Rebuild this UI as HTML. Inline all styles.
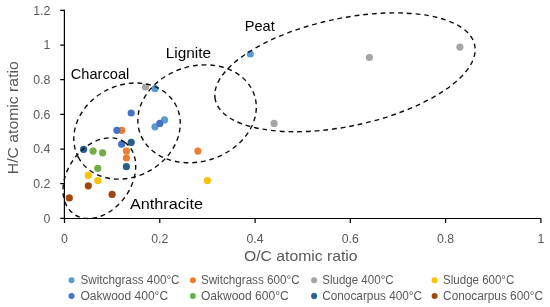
<!DOCTYPE html>
<html><head><meta charset="utf-8"><title>Van Krevelen diagram</title>
<style>html,body{margin:0;padding:0;background:#fff}svg{display:block}text{font-family:"Liberation Sans",sans-serif}</style>
</head><body>
<svg width="550" height="307" viewBox="0 0 550 307">
<rect width="550" height="307" fill="#fff"/>
<g stroke="#000" stroke-width="1.2" fill="none">
<path d="M64.4 9.8V219.0"/>
<path d="M63.8 218.5H541.1"/>
<path d="M60.2 218.4H64.4M60.2 183.7H64.4M60.2 149.1H64.4M60.2 114.4H64.4M60.2 79.7H64.4M60.2 45.1H64.4M60.2 10.4H64.4M64.5 218.5V223M159.8 218.5V223M255.1 218.5V223M350.3 218.5V223M445.6 218.5V223M540.9 218.5V223"/>
</g>
<g fill="#5B9BD5">
<circle cx="250.3" cy="54.0" r="3.6"/>
<circle cx="155.0" cy="88.7" r="3.6"/>
<circle cx="164.5" cy="119.9" r="3.6"/>
<circle cx="155.0" cy="126.8" r="3.6"/>
</g>
<g fill="#ED7D31">
<circle cx="197.9" cy="151.1" r="3.6"/>
<circle cx="121.7" cy="130.3" r="3.6"/>
<circle cx="126.4" cy="151.1" r="3.6"/>
<circle cx="126.4" cy="158.0" r="3.6"/>
</g>
<g fill="#A5A5A5">
<circle cx="459.9" cy="47.1" r="3.6"/>
<circle cx="369.4" cy="57.5" r="3.6"/>
<circle cx="274.1" cy="123.4" r="3.6"/>
<circle cx="145.5" cy="87.0" r="3.6"/>
</g>
<g fill="#FFC000">
<circle cx="207.4" cy="180.6" r="3.6"/>
<circle cx="88.3" cy="175.4" r="3.6"/>
<circle cx="97.8" cy="180.6" r="3.6"/>
</g>
<g fill="#4472C4">
<circle cx="131.2" cy="113.0" r="3.6"/>
<circle cx="116.9" cy="130.3" r="3.6"/>
<circle cx="121.7" cy="144.2" r="3.6"/>
<circle cx="159.8" cy="123.4" r="3.6"/>
</g>
<g fill="#70AD47">
<circle cx="93.1" cy="151.1" r="3.6"/>
<circle cx="102.6" cy="152.8" r="3.6"/>
<circle cx="97.8" cy="168.4" r="3.6"/>
</g>
<g fill="#255E91">
<circle cx="83.6" cy="149.4" r="3.6"/>
<circle cx="131.2" cy="142.4" r="3.6"/>
<circle cx="126.4" cy="166.7" r="3.6"/>
</g>
<g fill="#9E480E">
<circle cx="69.3" cy="197.9" r="3.6"/>
<circle cx="88.3" cy="185.8" r="3.6"/>
<circle cx="112.1" cy="194.4" r="3.6"/>
</g>
<g fill="none" stroke="#0d0d0d" stroke-width="1.4" stroke-dasharray="4.8 3.9">
<ellipse cx="127.02" cy="131.08" rx="55.30" ry="45.70" transform="rotate(151.31 127.02 131.08)"/>
<ellipse cx="99.37" cy="178.18" rx="44.01" ry="31.83" transform="rotate(-54.67 99.37 178.18)"/>
<ellipse cx="197.07" cy="113.81" rx="60.29" ry="47.66" transform="rotate(162.30 197.07 113.81)"/>
<ellipse cx="344.98" cy="72.31" rx="132.54" ry="53.94" transform="rotate(168.12 344.98 72.31)"/>
</g>
<g fill="#595959" font-size="12.3px">
<text x="50.4" y="222.6" text-anchor="end">0</text>
<text x="50.4" y="187.9" text-anchor="end">0.2</text>
<text x="50.4" y="153.3" text-anchor="end">0.4</text>
<text x="50.4" y="118.6" text-anchor="end">0.6</text>
<text x="50.4" y="83.9" text-anchor="end">0.8</text>
<text x="50.4" y="49.3" text-anchor="end">1</text>
<text x="50.4" y="14.6" text-anchor="end">1.2</text>
<text x="64.5" y="242.5" text-anchor="middle">0</text>
<text x="159.8" y="242.5" text-anchor="middle">0.2</text>
<text x="255.1" y="242.5" text-anchor="middle">0.4</text>
<text x="350.3" y="242.5" text-anchor="middle">0.6</text>
<text x="445.6" y="242.5" text-anchor="middle">0.8</text>
<text x="540.9" y="242.5" text-anchor="middle">1</text>
</g>
<g fill="#595959" font-size="14.4px">
<text x="244" y="260.5" textLength="113.5" lengthAdjust="spacingAndGlyphs">O/C atomic ratio</text>
<text transform="translate(18.1 174.2) rotate(-90)" textLength="113" lengthAdjust="spacingAndGlyphs">H/C atomic ratio</text>
</g>
<g fill="#000" font-size="14.4px">
<text x="70.8" y="79" textLength="58.5" lengthAdjust="spacingAndGlyphs">Charcoal</text>
<text x="165.8" y="57.8" textLength="45.3" lengthAdjust="spacingAndGlyphs">Lignite</text>
<text x="244.7" y="31.2" textLength="30" lengthAdjust="spacingAndGlyphs">Peat</text>
<text x="130" y="208.9" textLength="73" lengthAdjust="spacingAndGlyphs">Anthracite</text>
</g>
<g font-size="12px">
<circle cx="71.5" cy="280.3" r="3" fill="#5B9BD5"/>
<text x="80.4" y="283.7" fill="#595959" textLength="99.2" lengthAdjust="spacingAndGlyphs">Switchgrass 400°C</text>
<circle cx="192.9" cy="280.3" r="3" fill="#ED7D31"/>
<text x="200.9" y="283.7" fill="#595959" textLength="98.7" lengthAdjust="spacingAndGlyphs">Switchgrass 600°C</text>
<circle cx="314.1" cy="280.3" r="3" fill="#A5A5A5"/>
<text x="322.2" y="283.7" fill="#595959" textLength="71.4" lengthAdjust="spacingAndGlyphs">Sludge 400°C</text>
<circle cx="434.6" cy="280.3" r="3" fill="#FFC000"/>
<text x="443.1" y="283.7" fill="#595959" textLength="71.2" lengthAdjust="spacingAndGlyphs">Sludge 600°C</text>
<circle cx="71.5" cy="295.9" r="3" fill="#4472C4"/>
<text x="80.4" y="300.1" fill="#595959" textLength="87.7" lengthAdjust="spacingAndGlyphs">Oakwood 400°C</text>
<circle cx="192.9" cy="295.9" r="3" fill="#70AD47"/>
<text x="200.9" y="300.1" fill="#595959" textLength="87.8" lengthAdjust="spacingAndGlyphs">Oakwood 600°C</text>
<circle cx="314.1" cy="295.9" r="3" fill="#255E91"/>
<text x="322.2" y="300.1" fill="#595959" textLength="99.9" lengthAdjust="spacingAndGlyphs">Conocarpus 400°C</text>
<circle cx="434.6" cy="295.9" r="3" fill="#9E480E"/>
<text x="443.1" y="300.1" fill="#595959" textLength="100.0" lengthAdjust="spacingAndGlyphs">Conocarpus 600°C</text>
</g>
</svg>
</body></html>
